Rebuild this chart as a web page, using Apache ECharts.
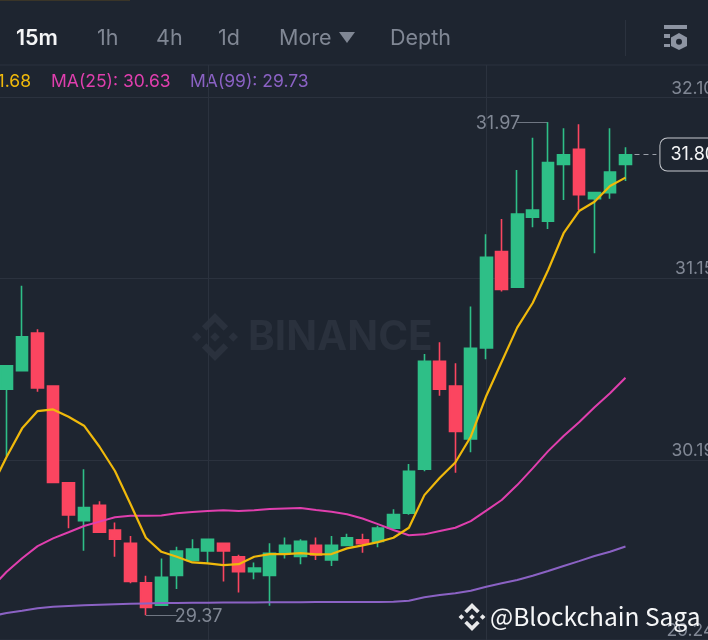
<!DOCTYPE html>
<html>
<head>
<meta charset="utf-8">
<style>
    html, body { margin: 0; padding: 0; background: #1e2530; overflow: hidden; }
    #chart { width: 708px; height: 640px; }
</style>
</head>
<body>
<div id="chart"></div>
<script src="https://cdn.jsdelivr.net/npm/echarts@6/dist/echarts.min.js"></script>
<script>
// first slot is the candle just off the left edge, only the MA lines are seen there
const candleOpen = [null, 30.562, 30.66, 30.859, 30.579, 30.069, 29.869, 29.95, 29.82, 29.75, 29.542, 29.424, 29.581, 29.66, 29.709, 29.75, 29.679, 29.6, 29.581, 29.698, 29.681, 29.739, 29.662, 29.739, 29.769, 29.76, 29.829, 29.909, 30.14, 30.709, 30.579, 30.3, 30.78, 31.288, 31.1, 31.469, 31.449, 31.748, 31.828, 31.567, 31.599, 31.748];
const candleClose = [null, 30.686, 30.839, 30.569, 30.071, 29.899, 29.939, 29.809, 29.771, 29.549, 29.412, 29.57, 29.709, 29.72, 29.771, 29.709, 29.6, 29.619, 29.697, 29.739, 29.76, 29.688, 29.739, 29.779, 29.748, 29.83, 29.901, 30.129, 30.709, 30.562, 30.34, 30.778, 31.258, 31.089, 31.486, 31.507, 31.757, 31.798, 31.588, 31.599, 31.708, 31.798];
const candleLow = [null, 30.21, 30.66, 30.549, 30.07, 29.829, 29.711, 29.809, 29.679, 29.539, 29.37, 29.42, 29.509, 29.66, 29.647, 29.549, 29.491, 29.56, 29.421, 29.67, 29.64, 29.662, 29.63, 29.739, 29.7, 29.729, 29.829, 29.9, 30.13, 30.528, 30.122, 30.23, 30.72, 31.077, 31.1, 31.416, 31.407, 31.56, 31.507, 31.279, 31.567, 31.66];
const candleHigh = [null, 30.69, 31.108, 30.878, 30.58, 30.069, 30.14, 29.971, 29.86, 29.788, 29.579, 29.67, 29.732, 29.771, 29.771, 29.75, 29.69, 29.649, 29.75, 29.781, 29.771, 29.781, 29.788, 29.8, 29.8, 29.843, 29.929, 30.168, 30.748, 30.81, 30.699, 30.998, 31.379, 31.46, 31.718, 31.889, 31.97, 31.938, 31.959, 31.6, 31.938, 31.838];
const ma7 = [30.041, 30.206, 30.356, 30.447, 30.456, 30.417, 30.37, 30.259, 30.131, 29.957, 29.779, 29.705, 29.679, 29.649, 29.644, 29.635, 29.64, 29.679, 29.693, 29.693, 29.698, 29.692, 29.693, 29.723, 29.739, 29.756, 29.779, 29.832, 30.004, 30.096, 30.176, 30.312, 30.527, 30.707, 30.887, 31.017, 31.191, 31.385, 31.502, 31.551, 31.634, 31.678];
const ma25 = [29.514, 29.6, 29.671, 29.735, 29.776, 29.808, 29.841, 29.864, 29.887, 29.895, 29.895, 29.897, 29.908, 29.915, 29.92, 29.924, 29.92, 29.924, 29.931, 29.934, 29.936, 29.925, 29.916, 29.903, 29.881, 29.851, 29.82, 29.792, 29.797, 29.815, 29.832, 29.867, 29.922, 29.978, 30.057, 30.145, 30.236, 30.316, 30.388, 30.467, 30.541, 30.623];
const ma99 = [29.366, 29.382, 29.394, 29.408, 29.415, 29.419, 29.423, 29.426, 29.429, 29.431, 29.433, 29.435, 29.435, 29.436, 29.437, 29.438, 29.438, 29.438, 29.439, 29.439, 29.439, 29.44, 29.44, 29.44, 29.441, 29.441, 29.442, 29.447, 29.465, 29.477, 29.486, 29.5, 29.521, 29.539, 29.556, 29.579, 29.604, 29.63, 29.656, 29.683, 29.705, 29.733];
const yTicks = [29.24, 30.19, 31.15, 32.10];
const yMin = 29.24, yMax = 32.272;
const lastPrice = 31.80, lowPrice = 29.37, highPrice = 31.97;
const tabs = ['15m', '1h', '4h', '1d', 'More', 'Depth'];
const tabX = [16, 97, 156, 218, 279, 390];

// room for the empty slots on the right of the last candle
const categories = Array.from({ length: 48 }, (v, i) => String(i));
const verticalLines = [14, 32];

const bg = '#1e2530', gridColor = '#2b323e', up = '#2ebf87', down = '#fb4560', muted = '#808794';
const font = 'Inter';

let candles = candleOpen.map((o, i) => [o, candleClose[i], candleLow[i], candleHigh[i]]);

function logo(cx, cy, r, fill, z) {
    let shapes = [
        [[0, -1], [.55, -.45], [.36, -.26], [0, -.62], [-.36, -.26], [-.55, -.45]],
        [[0, 1], [.55, .45], [.36, .26], [0, .62], [-.36, .26], [-.55, .45]],
        [[0, -.2], [.2, 0], [0, .2], [-.2, 0]],
        [[-.76, -.2], [-.56, 0], [-.76, .2], [-.96, 0]],
        [[.76, -.2], [.96, 0], [.76, .2], [.56, 0]]
    ];
    return shapes.map(s => ({
        type: 'polygon', z: z, silent: true,
        shape: { points: s.map(p => [cx + p[0] * r, cy + p[1] * r]) },
        style: { fill: fill }
    }));
}

let header = tabs.map((t, i) => ({
    type: 'text', x: tabX[i], y: 39, z: 10,
    style: { text: t, fill: i == 0 ? '#f4f5f6' : muted, font: (i == 0 ? '600 ' : '400 ') + '21.5px ' + font, textVerticalAlign: 'middle' }
}));

let graphics = header.concat([
    { type: 'rect', shape: { x: 0, y: 0, width: 130, height: 1 }, style: { fill: '#3a3528' } },
    { type: 'polygon', shape: { points: [[339, 32], [355, 32], [347, 43]] }, style: { fill: muted } },
    { type: 'rect', shape: { x: 625, y: 20, width: 1, height: 36 }, style: { fill: gridColor } },
    // settings icon
    { type: 'rect', shape: { x: 664, y: 25, width: 23, height: 4 }, style: { fill: '#8d94a2' } },
    { type: 'rect', shape: { x: 664, y: 34, width: 6, height: 4 }, style: { fill: '#8d94a2' } },
    { type: 'rect', shape: { x: 664, y: 44, width: 6, height: 3 }, style: { fill: '#8d94a2' } },
    { type: 'polygon', shape: { points: [[679, 33], [687, 37.5], [687, 46], [679, 50], [671, 46], [671, 37.5]] }, style: { fill: '#8d94a2' } },
    { type: 'circle', shape: { cx: 679, cy: 41.7, r: 3 }, style: { fill: bg } },
    // MA legend, the first one runs off the left edge
    { type: 'text', x: 31, y: 82, style: { text: 'MA(7): 31.68', fill: '#f0b90b', font: '17.5px ' + font, textAlign: 'right', textVerticalAlign: 'middle' } },
    { type: 'text', x: 51, y: 82, style: { text: 'MA(25): 30.63', fill: '#e03fae', font: '17.5px ' + font, textVerticalAlign: 'middle' } },
    { type: 'text', x: 190, y: 82, style: { text: 'MA(99): 29.73', fill: '#8b62c4', font: '17.5px ' + font, textVerticalAlign: 'middle' } },
    // watermarks
    { type: 'text', x: 248, y: 338, z: 0, silent: true, style: { text: 'BINANCE', fill: '#2a313d', font: '700 40.5px ' + font, textVerticalAlign: 'middle' } },
    { type: 'text', x: 490, y: 617, z: 20, style: { text: '@Blockchain Saga', fill: '#f5f6f7', font: '24.5px "Noto Sans CJK SC"', textVerticalAlign: 'middle' } }
]).concat(logo(215, 337, 24, '#2a313d', 0)).concat(logo(472, 617, 14, '#e8e9ea', 20));

let chart = echarts.init(document.getElementById('chart'));
chart.setOption({
    animation: false,
    backgroundColor: bg,
    graphic: graphics,
    grid: { show: true, outerBoundsMode: 'none', left: -8.8, right: -10.3, top: 65, bottom: 0, borderColor: gridColor, borderWidth: 1, backgroundColor: 'transparent' },
    xAxis: {
        type: 'category',
        data: categories,
        boundaryGap: false,
        axisLine: { show: false },
        axisTick: { show: false },
        axisLabel: { show: false },
        splitLine: { show: true, interval: i => verticalLines.includes(i), lineStyle: { color: gridColor, width: 1 } }
    },
    yAxis: {
        type: 'value',
        position: 'right',
        min: yMin,
        max: yMax,
        axisLine: { show: false },
        axisTick: { show: false, customValues: yTicks },
        axisLabel: {
            customValues: yTicks,
            inside: true,
            margin: 4,
            color: muted,
            fontFamily: font,
            fontSize: 17.5,
            verticalAlign: 'bottom',
            formatter: v => v.toFixed(2)
        },
        splitLine: { show: true, lineStyle: { color: gridColor, width: 1 } }
    },
    series: [
        {
            type: 'candlestick',
            data: candles,
            barWidth: 12.2,
            itemStyle: { color: up, color0: down, borderColor: up, borderColor0: down, borderWidth: 1.6 },
            markLine: {
                silent: true,
                z: 1,
                symbol: ['none', 'none'],
                data: [
                    [
                        { coord: ['10', lowPrice], lineStyle: { color: '#6f7682', width: 1, type: 'solid' }, label: { formatter: lowPrice.toFixed(2), position: 'end', distance: 1, offset: [-3, 1.5], color: muted, fontFamily: font, fontSize: 18 } },
                        { coord: ['12', lowPrice] }
                    ],
                    [
                        { coord: ['36', highPrice], lineStyle: { color: '#6f7682', width: 1, type: 'solid' }, label: { formatter: highPrice.toFixed(2), position: 'end', distance: 1, offset: [4, 1], color: muted, fontFamily: font, fontSize: 18 } },
                        { coord: ['34', highPrice] }
                    ],
                    [
                        { coord: ['41', lastPrice], lineStyle: { color: '#9a9fa8', width: 1.2, type: [5, 4] }, label: { formatter: lastPrice.toFixed(2), position: 'end', distance: 4, color: '#f4f5f6', fontFamily: font, fontSize: 18, backgroundColor: bg, borderColor: '#c6c9ce', borderWidth: 1, borderRadius: 7, padding: [7, 12, 7, 10] } },
                        { coord: ['43', lastPrice] }
                    ]
                ]
            }
        },
        { type: 'line', data: ma99, symbol: 'none', z: 3, lineStyle: { color: '#8b62c4', width: 2 } },
        { type: 'line', data: ma25, symbol: 'none', z: 3, lineStyle: { color: '#e03fae', width: 2 } },
        { type: 'line', data: ma7, symbol: 'none', z: 4, lineStyle: { color: '#f0b90b', width: 2.2 } }
    ]
});
</script>
</body>
</html>
